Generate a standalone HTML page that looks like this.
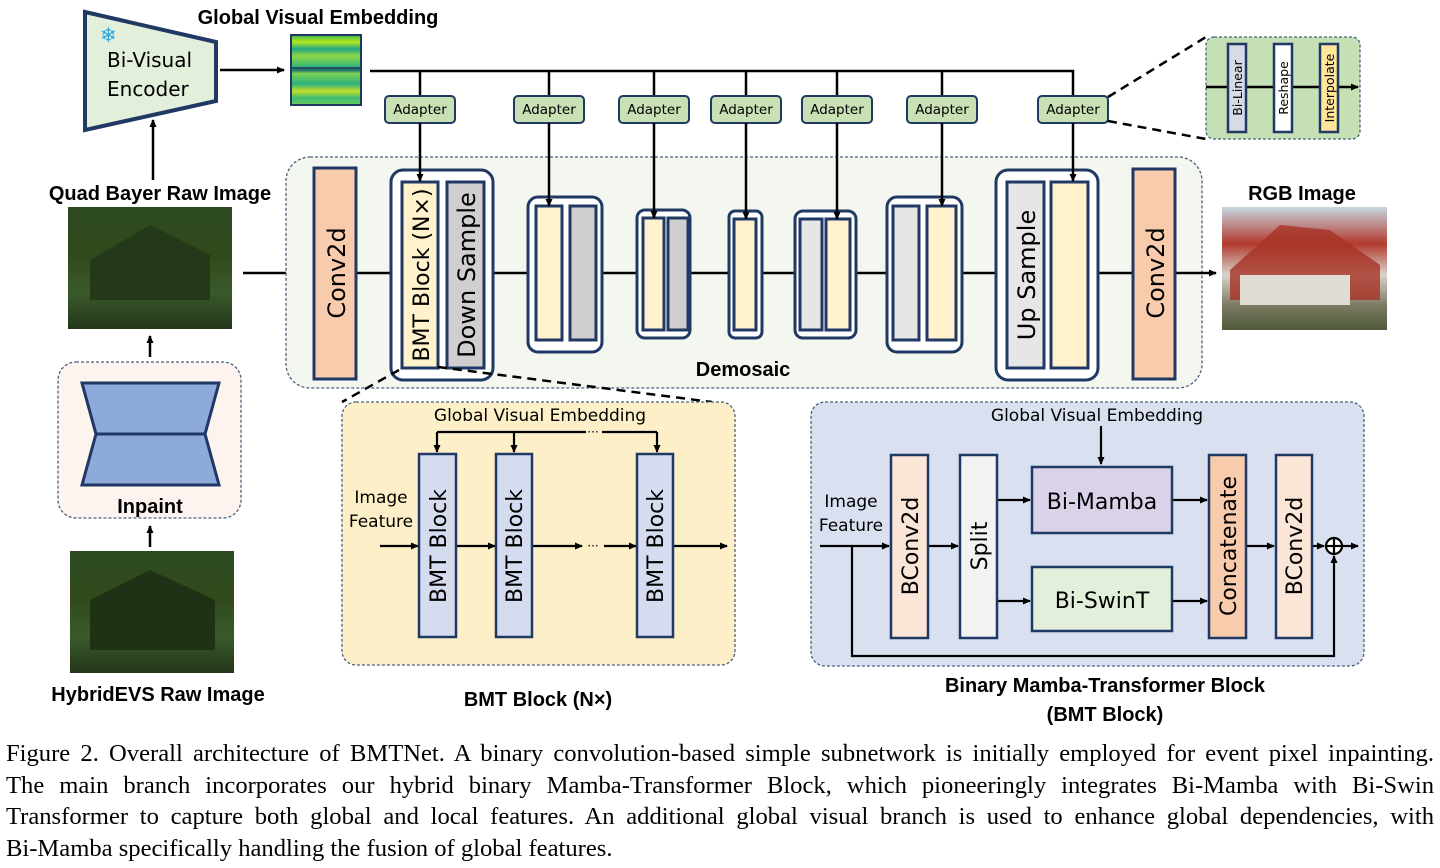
<!DOCTYPE html>
<html><head><meta charset="utf-8"><style>
body{margin:0;background:#fff;width:1440px;height:868px;overflow:hidden;font-family:"Liberation Sans","DejaVu Sans",sans-serif}
svg{position:absolute;left:0;top:0}
.cap{position:absolute;left:6px;width:1428px;font-family:"Liberation Serif",serif;font-size:24.6px;line-height:31.5px;text-align:justify;text-align-last:justify;color:#000;white-space:nowrap}
.b{font-family:"Liberation Sans",sans-serif;font-weight:bold}
</style></head><body>
<svg width="1440" height="868" viewBox="0 0 1440 868" font-family="DejaVu Sans, Liberation Sans, sans-serif">
<defs>
<marker id="a" markerWidth="8" markerHeight="8" refX="7" refY="4" orient="auto" markerUnits="userSpaceOnUse"><path d="M0,0.5 L8,4 L0,7.5z" fill="#000"/></marker>
<linearGradient id="emb" x1="0" y1="0" x2="0" y2="1">
<stop offset="0" stop-color="#3cb44b"/><stop offset=".1" stop-color="#b5e61d"/><stop offset=".2" stop-color="#22a884"/><stop offset=".3" stop-color="#8fd744"/><stop offset=".45" stop-color="#35b779"/><stop offset=".5" stop-color="#1f6f6f"/><stop offset=".55" stop-color="#7ad151"/><stop offset=".7" stop-color="#2db27d"/><stop offset=".8" stop-color="#c2e02b"/><stop offset=".9" stop-color="#3fbc73"/><stop offset="1" stop-color="#6ccd5a"/></linearGradient>
<linearGradient id="rgb" x1="0" y1="0" x2="0" y2="1"><stop offset="0" stop-color="#c6d6e0"/><stop offset=".3" stop-color="#b33a2e"/><stop offset=".55" stop-color="#d8d4cc"/><stop offset=".8" stop-color="#7d7a62"/><stop offset="1" stop-color="#4f5a3a"/></linearGradient>
<linearGradient id="raw" x1="0" y1="0" x2="0" y2="1"><stop offset="0" stop-color="#2d4a22"/><stop offset=".4" stop-color="#314a1c"/><stop offset=".7" stop-color="#3a5a2a"/><stop offset="1" stop-color="#22361a"/></linearGradient>
</defs>
<polygon points="85,12 216,42 216,101 85,130" fill="#e2efda" stroke="#1f3864" stroke-width="4"/>
<text x="100" y="42" font-size="20" fill="#29a3e0">❄</text>
<text x="107" y="67" font-size="20">Bi-Visual</text>
<text x="107" y="96" font-size="20">Encoder</text>
<line x1="220" y1="70" x2="284" y2="70" stroke="#000" stroke-width="2.5" marker-end="url(#a)"/>
<text x="318" y="24" font-size="20" class="b" text-anchor="middle">Global Visual Embedding</text>
<rect x="291" y="35" width="70" height="70" fill="url(#emb)" stroke="#1f3864" stroke-width="2"/>
<line x1="291" y1="68" x2="361" y2="68" stroke="#1f4f60" stroke-width="2"/>
<polyline points="370,71 1073,71 1073,96" fill="none" stroke="#000" stroke-width="2.5"/>
<g stroke="#000" stroke-width="2.5">
<line x1="420" y1="71" x2="420" y2="96"/><line x1="549" y1="71" x2="549" y2="96"/><line x1="654" y1="71" x2="654" y2="96"/><line x1="746" y1="71" x2="746" y2="96"/><line x1="837" y1="71" x2="837" y2="96"/><line x1="942" y1="71" x2="942" y2="96"/>
</g>
<g font-size="13.5" text-anchor="middle">
<g fill="#c9e0b4" stroke="#1f3864" stroke-width="2">
<rect x="385" y="96" width="70" height="27" rx="4"/><rect x="514" y="96" width="70" height="27" rx="4"/><rect x="619" y="96" width="70" height="27" rx="4"/><rect x="711" y="96" width="70" height="27" rx="4"/><rect x="802" y="96" width="70" height="27" rx="4"/><rect x="907" y="96" width="70" height="27" rx="4"/><rect x="1038" y="96" width="70" height="27" rx="4"/></g>
<text x="420" y="114">Adapter</text><text x="549" y="114">Adapter</text><text x="654" y="114">Adapter</text><text x="746" y="114">Adapter</text><text x="837" y="114">Adapter</text><text x="942" y="114">Adapter</text><text x="1073" y="114">Adapter</text>
</g>
<g stroke="#000" stroke-width="2.5" stroke-dasharray="9,6"><line x1="1108" y1="97" x2="1206" y2="37"/><line x1="1108" y1="121" x2="1206" y2="139"/></g>
<rect x="1206" y="37" width="154" height="102" rx="8" fill="#c5e0b4" stroke="#4a6080" stroke-width="1.3" stroke-dasharray="3,2"/>
<line x1="1206" y1="87" x2="1358" y2="87" stroke="#000" stroke-width="2.5" marker-end="url(#a)"/>
<rect x="1228" y="44" width="18" height="88" fill="#d6dce5" stroke="#1f3864" stroke-width="2.5"/>
<rect x="1274" y="44" width="18" height="88" fill="#fff" stroke="#1f3864" stroke-width="2.5"/>
<rect x="1320" y="44" width="18" height="88" fill="#ffe699" stroke="#1f3864" stroke-width="2.5"/>
<g font-size="12.5" text-anchor="middle"><text transform="translate(1242,88) rotate(-90)">Bi-Linear</text><text transform="translate(1288,88) rotate(-90)">Reshape</text><text transform="translate(1334,88) rotate(-90)">Interpolate</text></g>
<text x="160" y="200" font-size="20" class="b" text-anchor="middle">Quad Bayer Raw Image</text>
<line x1="153" y1="180" x2="153" y2="120" stroke="#000" stroke-width="2.5" marker-end="url(#a)"/>
<rect x="68" y="207" width="164" height="122" fill="url(#raw)"/>
<polygon points="90,260 150,225 210,255 210,300 90,300" fill="#24381a"/>
<line x1="243" y1="273" x2="313" y2="273" stroke="#000" stroke-width="2.5"/>
<line x1="150" y1="357" x2="150" y2="336" stroke="#000" stroke-width="2.5" marker-end="url(#a)"/>
<rect x="58" y="362" width="183" height="156" rx="18" fill="#fdf3ef" stroke="#4a6080" stroke-width="1.3" stroke-dasharray="3,2"/>
<polygon points="82,383 219,383 205,434 96,434" fill="#8eaadb" stroke="#1f3864" stroke-width="3"/>
<polygon points="96,434 205,434 219,485 82,485" fill="#8eaadb" stroke="#1f3864" stroke-width="3"/>
<text x="150" y="513" font-size="20" class="b" text-anchor="middle">Inpaint</text>
<line x1="150" y1="547" x2="150" y2="526" stroke="#000" stroke-width="2.5" marker-end="url(#a)"/>
<rect x="70" y="551" width="164" height="122" fill="url(#raw)"/>
<polygon points="90,600 150,570 215,600 215,650 90,650" fill="#1f3216"/>
<text x="158" y="701" font-size="20" class="b" text-anchor="middle">HybridEVS Raw Image</text>
<rect x="286" y="157" width="916" height="231" rx="24" fill="#f4f7f0" stroke="#4a6080" stroke-width="1.3" stroke-dasharray="3,2"/>
<line x1="313" y1="273" x2="1216" y2="273" stroke="#000" stroke-width="2.5" marker-end="url(#a)"/>
<g stroke="#1f3864" stroke-width="3">
<rect x="314" y="168" width="42" height="211" fill="#f8cbad"/>
<rect x="1133" y="169" width="42" height="210" fill="#f8cbad"/>
<rect x="391" y="170" width="102" height="210" rx="12" fill="#fff"/>
<rect x="402" y="182" width="36" height="186" fill="#fff2cc"/><rect x="447" y="182" width="37" height="186" fill="#d0cece"/>
<rect x="528" y="197" width="74" height="155" rx="10" fill="#fff"/>
<rect x="536" y="206" width="26" height="134" fill="#fff2cc"/><rect x="570" y="206" width="26" height="134" fill="#d0cece"/>
<rect x="637" y="210" width="53" height="128" rx="8" fill="#fff"/>
<rect x="643" y="218" width="21" height="112" fill="#fff2cc"/><rect x="668" y="218" width="20" height="112" fill="#d0cece"/>
<rect x="729" y="211" width="33" height="127" rx="6" fill="#fff"/>
<rect x="734" y="219" width="22" height="111" fill="#fff2cc"/>
<rect x="795" y="211" width="61" height="127" rx="8" fill="#fff"/>
<rect x="800" y="219" width="22" height="111" fill="#e7e6e6"/><rect x="826" y="219" width="24" height="111" fill="#fff2cc"/>
<rect x="887" y="197" width="75" height="155" rx="10" fill="#fff"/>
<rect x="893" y="206" width="26" height="134" fill="#e7e6e6"/><rect x="927" y="206" width="29" height="134" fill="#fff2cc"/>
<rect x="996" y="170" width="102" height="210" rx="12" fill="#fff"/>
<rect x="1007" y="182" width="37" height="186" fill="#e7e6e6"/><rect x="1051" y="182" width="37" height="186" fill="#fff2cc"/>
</g>
<g stroke="#000" stroke-width="2.5"><line x1="420" y1="123" x2="420" y2="181" marker-end="url(#a)"/><line x1="1073" y1="123" x2="1073" y2="181" marker-end="url(#a)"/><line x1="549" y1="123" x2="549" y2="206" marker-end="url(#a)"/><line x1="654" y1="123" x2="654" y2="218" marker-end="url(#a)"/><line x1="746" y1="123" x2="746" y2="219" marker-end="url(#a)"/><line x1="837" y1="123" x2="837" y2="219" marker-end="url(#a)"/><line x1="942" y1="123" x2="942" y2="206" marker-end="url(#a)"/></g>
<g font-size="24" text-anchor="middle">
<text transform="translate(345,273) rotate(-90)">Conv2d</text>
<text transform="translate(1164,273) rotate(-90)">Conv2d</text>
<text transform="translate(429,275) rotate(-90)" font-size="22">BMT Block (N×)</text>
<text transform="translate(475,275) rotate(-90)">Down Sample</text>
<text transform="translate(1035,275) rotate(-90)">Up Sample</text>
</g>
<text x="743" y="376" font-size="20" class="b" text-anchor="middle">Demosaic</text>
<text x="1302" y="200" font-size="20" class="b" text-anchor="middle">RGB Image</text>
<rect x="1222" y="207" width="165" height="123" fill="url(#rgb)"/>
<polygon points="1230,270 1280,225 1330,230 1380,265 1380,300 1230,300" fill="#a83226" opacity=".8"/>
<rect x="1240" y="275" width="110" height="30" fill="#e0ddd5"/>
<g stroke="#000" stroke-width="2.5" stroke-dasharray="9,6"><line x1="399" y1="370" x2="342" y2="402"/><line x1="438" y1="367" x2="712" y2="402"/></g>
<rect x="342" y="402" width="393" height="263" rx="14" fill="#fdf0c8" stroke="#4a6080" stroke-width="1.3" stroke-dasharray="3,2"/>
<text x="540" y="421" font-size="17" text-anchor="middle">Global Visual Embedding</text>
<g stroke="#000" stroke-width="2.2">
<line x1="437" y1="432" x2="586" y2="432"/><line x1="602" y1="432" x2="657" y2="432"/>
<line x1="437" y1="432" x2="437" y2="452" marker-end="url(#a)"/><line x1="514" y1="432" x2="514" y2="452" marker-end="url(#a)"/><line x1="657" y1="432" x2="657" y2="452" marker-end="url(#a)"/>
<line x1="380" y1="546" x2="418" y2="546" marker-end="url(#a)"/><line x1="456" y1="546" x2="495" y2="546" marker-end="url(#a)"/><line x1="532" y1="546" x2="582" y2="546" marker-end="url(#a)"/><line x1="604" y1="546" x2="636" y2="546" marker-end="url(#a)"/><line x1="673" y1="546" x2="727" y2="546" marker-end="url(#a)"/>
</g>
<text x="593" y="436" font-size="12" text-anchor="middle">···</text><text x="593" y="550" font-size="12" text-anchor="middle">···</text>
<g fill="#d6dcf0" stroke="#1f3864" stroke-width="2.5"><rect x="419" y="454" width="37" height="183"/><rect x="496" y="454" width="36" height="183"/><rect x="637" y="454" width="36" height="183"/></g>
<g font-size="22" text-anchor="middle"><text transform="translate(446,546) rotate(-90)">BMT Block</text><text transform="translate(522,546) rotate(-90)">BMT Block</text><text transform="translate(663,546) rotate(-90)">BMT Block</text></g>
<g font-size="17" text-anchor="middle"><text x="381" y="503">Image</text><text x="381" y="527">Feature</text></g>
<text x="538" y="706" font-size="20" class="b" text-anchor="middle">BMT Block (N×)</text>
<rect x="811" y="402" width="553" height="264" rx="14" fill="#d9e0f0" stroke="#4a6080" stroke-width="1.3" stroke-dasharray="3,2"/>
<text x="1097" y="421" font-size="17" text-anchor="middle">Global Visual Embedding</text>
<g font-size="17" text-anchor="middle"><text x="851" y="507">Image</text><text x="851" y="531">Feature</text></g>
<g stroke="#000" stroke-width="2.2" fill="none">
<line x1="1101" y1="426" x2="1101" y2="464" marker-end="url(#a)"/>
<line x1="820" y1="546" x2="889" y2="546" marker-end="url(#a)"/>
<polyline points="852,546 852,656 1334,656 1334,556" marker-end="url(#a)"/>
<line x1="928" y1="546" x2="958" y2="546" marker-end="url(#a)"/>
<line x1="997" y1="500" x2="1030" y2="500" marker-end="url(#a)"/>
<line x1="997" y1="601" x2="1030" y2="601" marker-end="url(#a)"/>
<line x1="1172" y1="500" x2="1207" y2="500" marker-end="url(#a)"/>
<line x1="1172" y1="601" x2="1207" y2="601" marker-end="url(#a)"/>
<line x1="1246" y1="546" x2="1274" y2="546" marker-end="url(#a)"/>
<line x1="1312" y1="546" x2="1324" y2="546" marker-end="url(#a)"/>
<line x1="1342" y1="546" x2="1358" y2="546" marker-end="url(#a)"/>
<circle cx="1334" cy="546" r="8" fill="#fff"/><line x1="1326" y1="546" x2="1342" y2="546"/><line x1="1334" y1="538" x2="1334" y2="554"/>
</g>
<g stroke="#1f3864" stroke-width="2.5">
<rect x="891" y="455" width="37" height="183" fill="#fbe5d6"/>
<rect x="960" y="455" width="37" height="183" fill="#f2f2f2"/>
<rect x="1032" y="467" width="140" height="66" fill="#d9d2e9"/>
<rect x="1032" y="567" width="140" height="64" fill="#e2efda"/>
<rect x="1209" y="455" width="37" height="183" fill="#f8cbad"/>
<rect x="1276" y="455" width="36" height="183" fill="#fbe5d6"/>
</g>
<g font-size="22" text-anchor="middle">
<text transform="translate(918,546) rotate(-90)">BConv2d</text>
<text transform="translate(987,546) rotate(-90)">Split</text>
<text transform="translate(1236,546) rotate(-90)">Concatenate</text>
<text transform="translate(1302,546) rotate(-90)">BConv2d</text>
<text x="1102" y="509">Bi-Mamba</text>
<text x="1102" y="608">Bi-SwinT</text>
</g>
<text x="1105" y="692" font-size="20" class="b" text-anchor="middle">Binary Mamba-Transformer Block</text>
<text x="1105" y="721" font-size="20" class="b" text-anchor="middle">(BMT Block)</text>
</svg>
<div class="cap" style="top:738px">Figure 2. Overall architecture of BMTNet. A binary convolution-based simple subnetwork is initially employed for event pixel inpainting.</div>
<div class="cap" style="top:770px">The main branch incorporates our hybrid binary Mamba-Transformer Block, which pioneeringly integrates Bi-Mamba with Bi-Swin</div>
<div class="cap" style="top:801px">Transformer to capture both global and local features. An additional global visual branch is used to enhance global dependencies, with</div>
<div class="cap" style="top:833px;text-align-last:left">Bi-Mamba specifically handling the fusion of global features.</div>
</body></html>
